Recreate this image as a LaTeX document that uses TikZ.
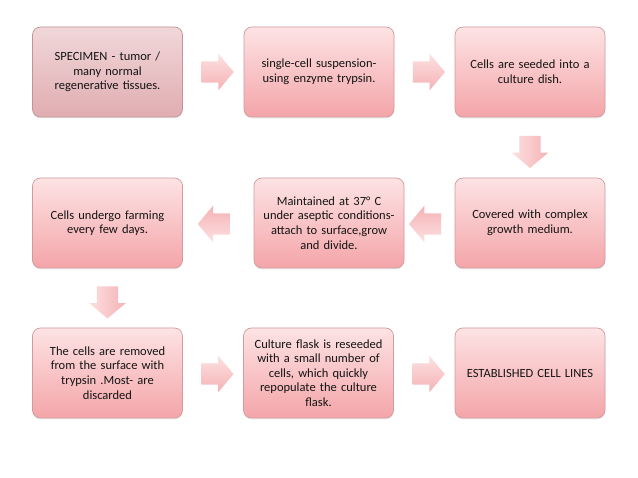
\documentclass[tikz,border=0pt]{standalone}
\usepackage{fontspec}
\setmainfont{Carlito}
\usetikzlibrary{shapes.arrows,shadows,calc}
\definecolor{txt}{HTML}{141414}
\definecolor{bxtop}{HTML}{FDE3E4}
\definecolor{bxbot}{HTML}{F4A5A9}
\definecolor{bxdraw}{HTML}{D39A9E}
\definecolor{b1top}{HTML}{F1D7D9}
\definecolor{b1bot}{HTML}{E0ADB1}
\definecolor{b1draw}{HTML}{C29497}
\definecolor{artop}{HTML}{FDE0E1}
\definecolor{arbot}{HTML}{F5B2B5}
\tikzset{
  stepbox/.style={rectangle, rounded corners=8pt, minimum width=150pt, minimum height=90pt,
    text width=144pt, align=center, inner sep=0pt, font=\fontsize{12.5}{14.6}\selectfont, text=txt,
    draw=bxdraw, line width=0.7pt, top color=bxtop, bottom color=bxbot,
    drop shadow={shadow xshift=0pt, shadow yshift=-1.5pt, opacity=0.18}},
  firstbox/.style={stepbox, draw=b1draw, top color=b1top, bottom color=b1bot},
  blockarrow/.style={single arrow, minimum height=32pt, minimum width=36pt,
    single arrow head extend=7.5pt, single arrow tip angle=100,
    inner xsep=1pt, inner ysep=10.5pt, draw=none},
  rightarrow/.style={blockarrow, top color=artop, bottom color=arbot},
  leftarrow/.style={blockarrow, rotate=180, top color=arbot, bottom color=artop},
  downarrow/.style={blockarrow, rotate=-90, left color=artop, right color=arbot},
}
\begin{document}
\begin{tikzpicture}[x=1pt,y=-1pt]
\fill[white] (0,0) rectangle (638,478);
\useasboundingbox (0,0) rectangle (638,478);
\node[firstbox] (b1) at (107.5,72) {SPECIMEN - tumor /\\ many normal\\ regenerative tissues.};
\node[stepbox] (b2) at (319,72) {single-cell suspension-\\ using enzyme trypsin.};
\node[stepbox] (b3) at (530,72) {Cells are seeded into a\\ culture dish.};
\node[stepbox] (b4) at (107.5,223) {Cells undergo farming\\ every few days.};
\node[stepbox] (b5) at (329,223) {Maintained at 37° C\\ under aseptic conditions-\\ attach to surface,grow\\ and divide.};
\node[stepbox] (b6) at (530,223) {Covered with complex\\ growth medium.};
\node[stepbox] (b7) at (107.5,373) {The cells are removed\\ from the surface with\\ trypsin .Most- are\\ discarded};
\node[stepbox] (b8) at (318.5,373) {Culture flask is reseeded\\ with a small number of\\ cells, which quickly\\ repopulate the culture\\ flask.};
\node[stepbox] (b9) at (530,373) {ESTABLISHED CELL LINES};
% block arrows
\node[rightarrow] (a1) at ($(b1.east)!0.5!(b2.west)$) {};
\node[rightarrow] (a2) at ($(b2.east)!0.5!(b3.west)$) {};
\node[downarrow] (a3) at ($(b3.south)!0.5!(b6.north)$) {};
\node[leftarrow] (a4) at ($(b6.west)!0.5!(b5.east)+(0,1)$) {};
\node[leftarrow] (a5) at ($(b5.west)!0.5!(b4.east)+(0,1)$) {};
\node[downarrow] (a6) at ($(b4.south)!0.5!(b7.north)$) {};
\node[rightarrow] (a7) at ($(b7.east)!0.5!(b8.west)+(0,1)$) {};
\node[rightarrow] (a8) at ($(b8.east)!0.5!(b9.west)+(0,1)$) {};
\end{tikzpicture}
\end{document}
